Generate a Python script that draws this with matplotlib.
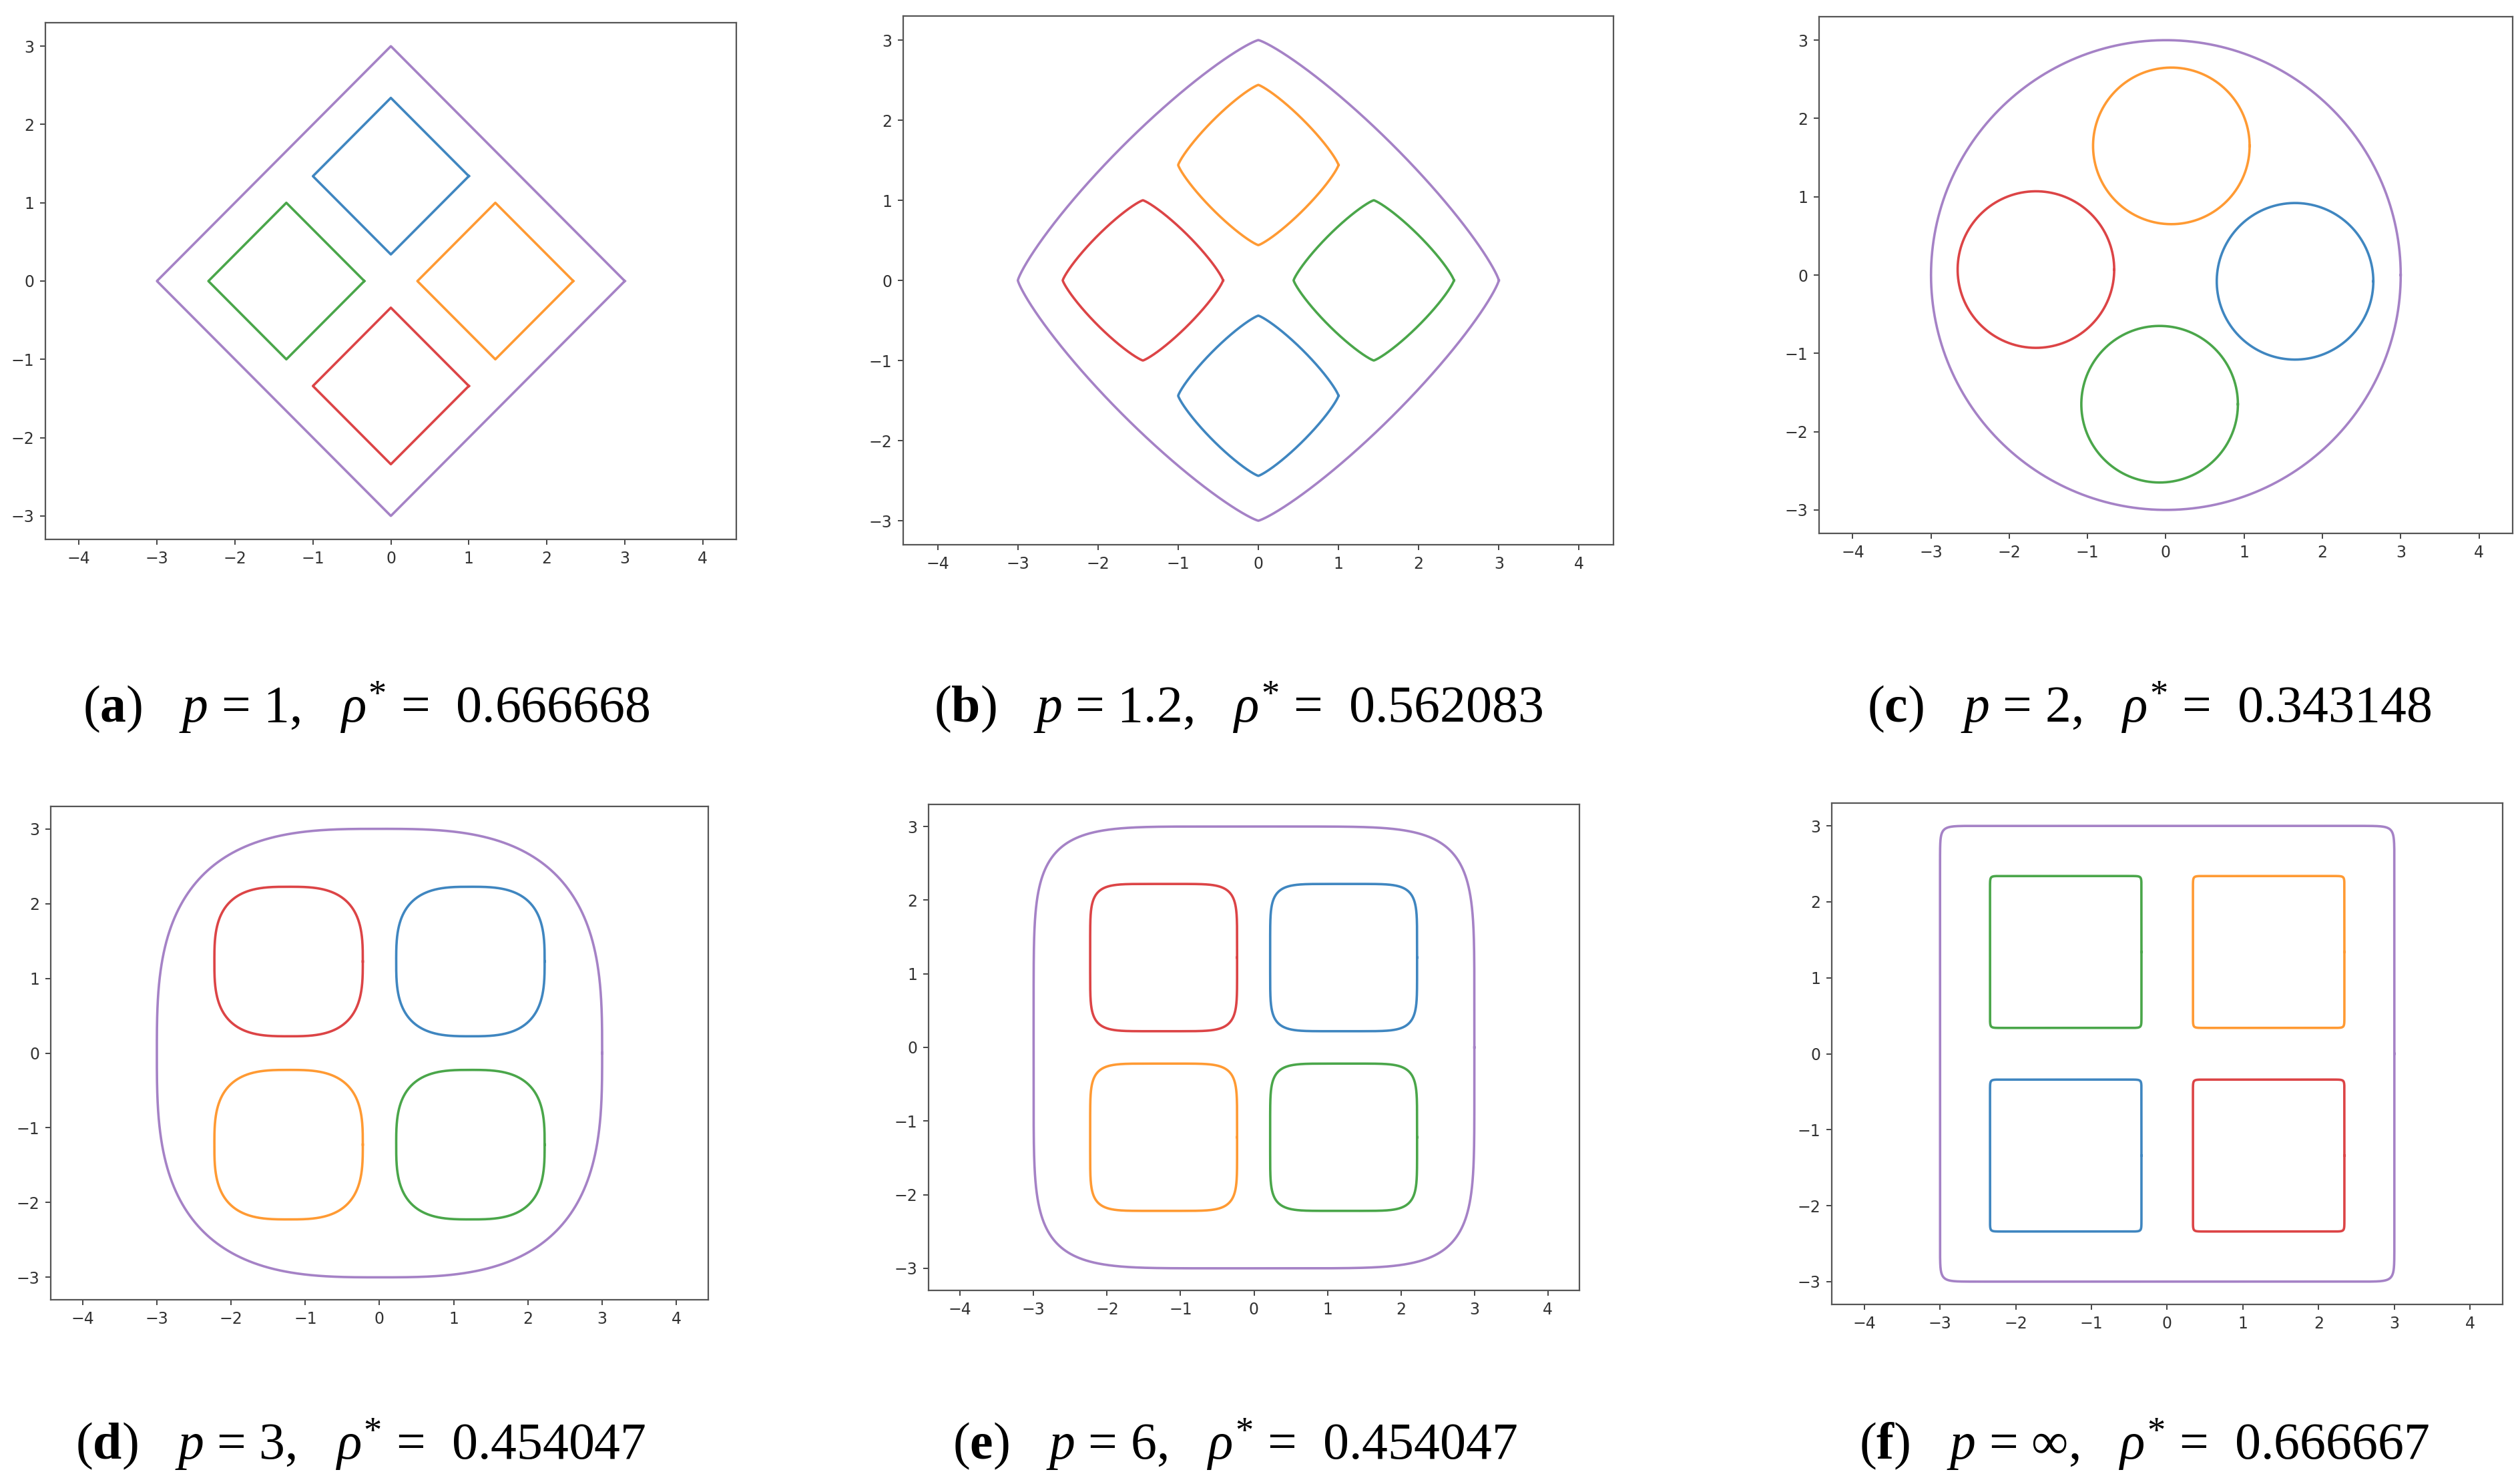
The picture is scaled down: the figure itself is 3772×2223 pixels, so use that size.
import numpy as np
import matplotlib
matplotlib.use("Agg")
import matplotlib.pyplot as plt

# panel captions
letters = ["a", "b", "c", "d", "e", "f"]
p_labels = ["1", "1.2", "2", "3", "6", r"\infty"]
rho_labels = ["0.666668", "0.562083", "0.343148", "0.454047", "0.454047", "0.666667"]

# norm exponent per panel (inf drawn with a large exponent)
p_values = [1, 1.2, 2, 3, 6, np.inf]

big_radius = 3.0
small_radius = [1.0, 1.0, 1.0, 1.0, 1.0, 1.0]

# centres of the four small balls, order: blue, orange, green, red
cx_a = [0.0, 1.34, -1.34, 0.0]
cy_a = [1.34, 0.0, 0.0, -1.34]
cx_b = [0.0, 0.0, 1.44, -1.44]
cy_b = [-1.44, 1.44, 0.0, 0.0]
cx_c = [1.65, 0.07, -0.08, -1.66]
cy_c = [-0.08, 1.65, -1.65, 0.07]
cx_d = [1.225, -1.225, 1.225, -1.225]
cy_d = [1.225, -1.225, -1.225, 1.225]
cx_e = [1.22, -1.23, 1.22, -1.23]
cy_e = [1.22, -1.22, -1.22, 1.22]
cx_f = [-1.34, 1.34, -1.34, 1.34]
cy_f = [-1.34, 1.34, 1.34, -1.34]

centres_x = [cx_a, cx_b, cx_c, cx_d, cx_e, cx_f]
centres_y = [cy_a, cy_b, cy_c, cy_d, cy_e, cy_f]

colors = ["#3f86c0", "#ff9a33", "#4aa64a", "#dc4446"]
outer_color = "#a582c6"

W, H = 3773, 2223
# axes frames in pixels: left, right, top, bottom
frames = [(68, 1103, 34, 808), (1353, 2417, 24, 816), (2725, 3764, 25, 799),
          (76, 1061, 1208, 1947), (1391, 2366, 1205, 1933), (2744, 3749, 1203, 1954)]
caption_xy = [(549, 1060), (1855, 1060), (3220, 1060),
              (540, 2164), (1850, 2164), (3212, 2164)]

plt.rcParams['mathtext.fontset'] = 'custom'
plt.rcParams['mathtext.rm'] = 'Liberation Serif'
plt.rcParams['mathtext.it'] = 'Liberation Serif:italic'
plt.rcParams['mathtext.bf'] = 'Liberation Serif:bold'


def lp_ball(cx, cy, r, p, n=6000):
    if np.isinf(p):
        p = 40
    th = np.linspace(0, 2 * np.pi, n)
    c, s = np.cos(th), np.sin(th)
    rr = r / (np.abs(c) ** p + np.abs(s) ** p) ** (1.0 / p)
    return cx + rr * c, cy + rr * s


fig = plt.figure(figsize=(W / 100, H / 100), dpi=100)

for i in range(6):
    l, r, t, b = frames[i]
    ax = fig.add_axes([l / W, 1 - b / H, (r - l) / W, (b - t) / H])
    p = p_values[i]
    for k in range(4):
        x, y = lp_ball(centres_x[i][k], centres_y[i][k], small_radius[i], p)
        ax.plot(x, y, color=colors[k], lw=2.6)
    x, y = lp_ball(0, 0, big_radius, p)
    ax.plot(x, y, color=outer_color, lw=2.6)
    ax.set_xlim(-4.43, 4.43)
    ax.set_ylim(-3.3, 3.3)
    ax.set_xticks(range(-4, 5))
    ax.set_yticks(range(-3, 4))
    ax.tick_params(labelsize=17, length=6, width=1.4, pad=6,
                   color="#444444", labelcolor="#333333")
    for sp in ax.spines.values():
        sp.set_linewidth(1.6)
        sp.set_color("#555555")

    cap = "(" + r"$\mathbf{" + letters[i] + "}$" + ")   " + r"$p$" + " = " + \
          r"$" + p_labels[i] + "$" + ",   " + r"$\rho^{*}$" + " =  " + rho_labels[i]
    fig.text(caption_xy[i][0] / W, 1 - caption_xy[i][1] / H, cap,
             ha="center", va="center", fontsize=56, family="Liberation Serif")

fig.savefig("out.png", dpi=100)
